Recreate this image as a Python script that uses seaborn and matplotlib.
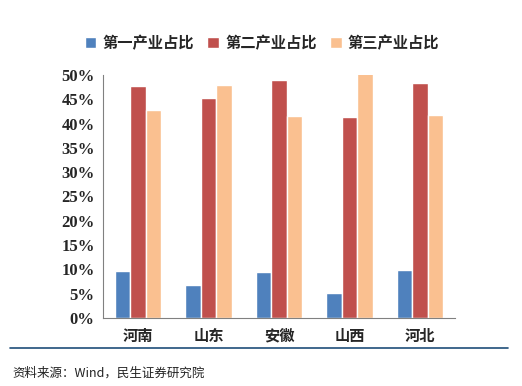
import pandas as pd
import matplotlib.pyplot as plt
import seaborn as sns
from matplotlib.ticker import PercentFormatter, FixedLocator

# 数据
provinces = ['河南', '山东', '安徽', '山西', '河北']
series_names = ['第一产业占比', '第二产业占比', '第三产业占比']
primary = [9.6, 6.7, 9.5, 5.1, 9.8]
secondary = [47.7, 45.3, 49.0, 41.3, 48.4]
tertiary = [42.7, 48.0, 41.5, 53.6, 41.8]
colors = ['#4F81BD', '#C0504D', '#FAC090']

df = pd.DataFrame({
    '省份': provinces * 3,
    '类别': [series_names[0]] * 5 + [series_names[1]] * 5 + [series_names[2]] * 5,
    '占比': primary + secondary + tertiary,
})

sns.set_style('white')
plt.rcParams['font.family'] = ['Noto Sans CJK SC', 'DejaVu Sans']

fig = plt.figure(figsize=(5.22, 3.86), dpi=100)
ax = fig.add_axes([103 / 522, 1 - 318 / 386, (455 - 103) / 522, (318 - 75) / 386])

sns.barplot(data=df, x='省份', y='占比', hue='类别', palette=colors, saturation=1,
            width=0.66, gap=0, ax=ax, legend=True)

ax.set_ylim(0, 50)
ax.set_xlim(-0.5, 4.5)
ax.yaxis.set_major_locator(FixedLocator(range(0, 51, 5)))
ax.yaxis.set_major_formatter(PercentFormatter(decimals=0))
ax.set_xlabel('')
ax.set_ylabel('')

for s in ['top', 'right']:
    ax.spines[s].set_visible(False)
for s in ['left', 'bottom']:
    ax.spines[s].set_color('#808080')
    ax.spines[s].set_linewidth(0.8)

# 分类边界处的刻度
ax.set_xticks([i + 0.5 for i in range(-1, 5)], minor=True)
ax.tick_params(axis='x', which='minor', length=5, color='#808080', width=0.8, direction='out')
ax.tick_params(axis='x', which='major', length=0, pad=7)
ax.tick_params(axis='y', length=4, color='#808080', width=0.8, direction='out', pad=2)

for lbl in ax.get_yticklabels():
    lbl.set_fontfamily('Liberation Serif')
    lbl.set_fontweight('bold')
    lbl.set_fontsize(12)
for lbl in ax.get_xticklabels():
    lbl.set_fontweight('heavy')
    lbl.set_fontsize(11)

handles, labels = ax.get_legend_handles_labels()
ax.get_legend().remove()
fig.legend(handles, labels, loc='center', bbox_to_anchor=(262 / 522, 1 - 43 / 386),
           ncol=3, frameon=False, prop={'weight': 'heavy', 'size': 11},
           handlelength=0.75, handleheight=0.75, handletextpad=0.4, columnspacing=0.9)

# 底部分隔线与资料来源
fig.add_artist(plt.Line2D([10 / 522, 508 / 522], [1 - 348 / 386, 1 - 348 / 386],
                          color='#1F4E79', linewidth=1.2))
fig.text(12 / 522, 1 - 373 / 386, '资料来源：Wind，民生证券研究院', fontsize=9,
         va='center', ha='left', color='#222222')

fig.savefig('out.png', dpi=100)
